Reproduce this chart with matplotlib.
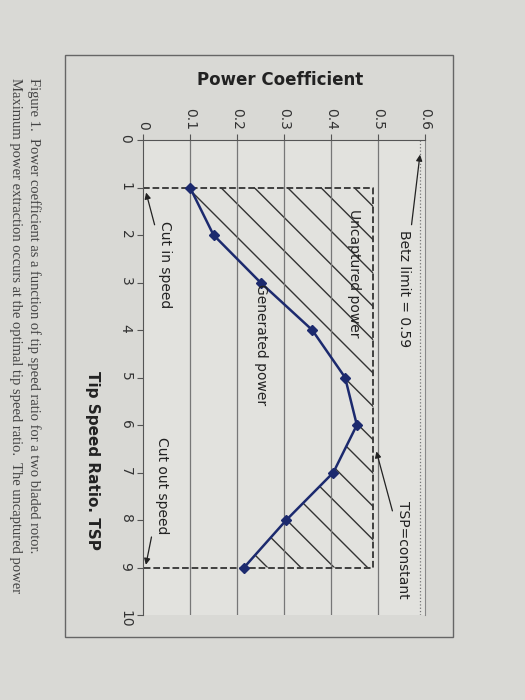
import numpy as np
import matplotlib.pyplot as plt
from matplotlib.patches import Rectangle

# data
tsr = [1, 2, 3, 4, 5, 6, 7, 8, 9]
cp = [0.10, 0.15, 0.25, 0.36, 0.43, 0.455, 0.405, 0.305, 0.215]
tsp_const = 0.49
betz = 0.59
cp_ticks = [0, 0.1, 0.2, 0.3, 0.4, 0.5, 0.6]
tsr_ticks = list(range(11))

W, H = 525, 700


def fx(x):
    return x / W


def fy(y):
    return 1 - y / H


fig = plt.figure(figsize=(5.25, 7), dpi=100, facecolor="#d9d9d5")

# the page is photographed rotated: Cp runs left->right, TSR runs top->bottom
ax = fig.add_axes([fx(143), fy(615), fx(425) - fx(143), fy(140) - fy(615)])
ax.set_facecolor("#e2e2de")
ax.set_xlim(0, 0.6)
ax.set_ylim(10, 0)

for c in cp_ticks[1:-1]:
    ax.axvline(c, color="#777777", lw=0.9)
ax.axvline(betz, color="#777777", lw=0.9, ls=":")

# hatched uncaptured region
ax.fill_betweenx(tsr, cp, tsp_const, facecolor="none", edgecolor="#333333",
                 hatch="\\", lw=0)
ax.plot([0, tsp_const, tsp_const, 0], [1, 1, 9, 9], color="#333333", ls="--", lw=1.3)
ax.plot(cp, tsr, color="#1c2a6e", lw=1.8, marker="D", ms=5)

ax.set_xticks(cp_ticks)
ax.set_yticks(tsr_ticks)
ax.xaxis.tick_top()
ax.set_xticklabels([f"{c:g}" for c in cp_ticks], rotation=-90, fontsize=10, color="#333333")
ax.set_yticklabels([str(t) for t in tsr_ticks], rotation=-90, fontsize=10, color="#333333")
ax.tick_params(length=4, color="#555555")
for s in ["top", "left"]:
    ax.spines[s].set_color("#555555")
ax.spines["bottom"].set_visible(False)
ax.spines["right"].set_color("#888888")

kw = dict(rotation=-90, fontsize=10, color="#222222", va="center", ha="center")
arr = dict(arrowstyle="-|>", color="#222222", lw=0.9, mutation_scale=9)
ax.annotate("Betz limit = 0.59", xy=(0.59, 0.25), xytext=(0.555, 1.9), arrowprops=arr,
            **{**kw, "va": "top"})
ax.text(0.448, 2.8, "Uncaptured power", **kw)
ax.text(0.25, 4.3, "Generated power", **kw)
ax.annotate("Cut in speed", xy=(0.005, 1.05), xytext=(0.047, 1.7), arrowprops=arr,
            **{**kw, "va": "top"})
ax.annotate("Cut out speed", xy=(0.005, 9.0), xytext=(0.04, 8.3), arrowprops=arr,
            **{**kw, "va": "bottom"})
ax.annotate("TSP=constant", xy=(0.495, 6.5), xytext=(0.553, 7.6), arrowprops=arr,
            **{**kw, "va": "top"})

# outer frame
fig.patches.append(Rectangle((fx(65), fy(637)), fx(453) - fx(65), fy(55) - fy(637),
                             transform=fig.transFigure, facecolor="none",
                             edgecolor="#666666", lw=1.0))

fig.text(fx(280), fy(80), "Power Coefficient", fontsize=12, fontweight="bold",
         ha="center", va="center", color="#222222")
fig.text(fx(92), fy(460), "Tip Speed Ratio. TSP", fontsize=11, fontweight="bold",
         rotation=-90, ha="center", va="center", color="#222222")

cap1 = "Figure 1.  Power coefficient as a function of tip speed ratio for a two bladed rotor."
cap2 = "Maximum power extraction occurs at the optimal tip speed ratio.  The uncaptured power"
fig.text(fx(34), fy(78), cap1, family="Liberation Serif", fontsize=10.5, rotation=-90,
         ha="center", va="top", color="#444444")
fig.text(fx(15), fy(78), cap2, family="Liberation Serif", fontsize=10.5, rotation=-90,
         ha="center", va="top", color="#444444")

fig.savefig("out.png", dpi=100, facecolor=fig.get_facecolor())
